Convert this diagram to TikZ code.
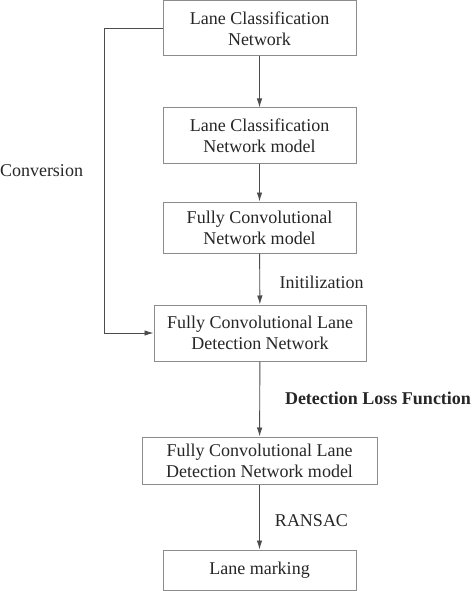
\documentclass[tikz,border=0pt]{standalone}
\usepackage{fontspec}
\setmainfont{Liberation Serif}
\usepackage{tikz}
\usetikzlibrary{arrows.meta}
\usepackage{xcolor}

\begin{document}
\begin{tikzpicture}[x=1pt, y=-1pt]
        % ================= 样式定义 =================
        \tikzset{
            % 流程方框
            stage/.style={draw=black!45, line width=1pt, fill=white, align=center, inner sep=0pt,
                font=\fontsize{18}{21}\selectfont, text=black!85, minimum width=193pt},
            % 连线(带箭头)
            flow/.style={line width=0.9pt, draw=black!70, -{Latex[length=9pt, width=5.5pt]}},
            % 连线旁的文字
            tag/.style={font=\fontsize{18}{21}\selectfont, text=black!85, inner sep=0pt}
        }
        \useasboundingbox (0,0) rectangle (474,591);

        % ================= 1. 方框 =================
        \node[stage, minimum height=55pt] (lcn) at (259.5, 28.5) {Lane Classification\\Network};
        \node[stage, minimum height=55pt] (lcnm) at (259.5, 135.5) {Lane Classification\\Network model};
        \node[stage, minimum height=51pt] (fcnm) at (259.5, 227.5) {Fully Convolutional\\Network model};
        \node[stage, minimum width=212pt, minimum height=56pt] (fcldn) at (260, 333) {Fully Convolutional Lane\\Detection Network};
        \node[stage, minimum width=235pt, minimum height=47pt] (fcldnm) at (259.5, 460.5) {Fully Convolutional Lane\\Detection Network model};
        \node[stage, minimum height=40pt] (mark) at (259.5, 570) {Lane marking};

        % ================= 2. 文字标签 =================
        \node[tag] (conv) at (41.5, 171) {Conversion};
        \node[tag] (init) at (321.5, 282) {Initilization};
        \node[tag, font=\fontsize{18}{21}\selectfont\bfseries] (loss) at (378, 398) {Detection Loss Function};
        \node[tag] (ransac) at (311.5, 521) {RANSAC};

        % ================= 3. 连线 =================
        \draw[flow] (lcn) -- (lcnm);
        \draw[flow] (lcnm) -- (fcnm);
        \draw[flow] (fcnm) -- (fcldn);
        \draw[flow] (fcldn) -- (fcldnm);
        \draw[flow] (fcldnm) -- (mark);

        % --- 左侧 Conversion 回路 ---
        \draw[flow] (lcn.west) -- ++(-58,0) |- (fcldn.west);

    \end{tikzpicture}
\end{document}
